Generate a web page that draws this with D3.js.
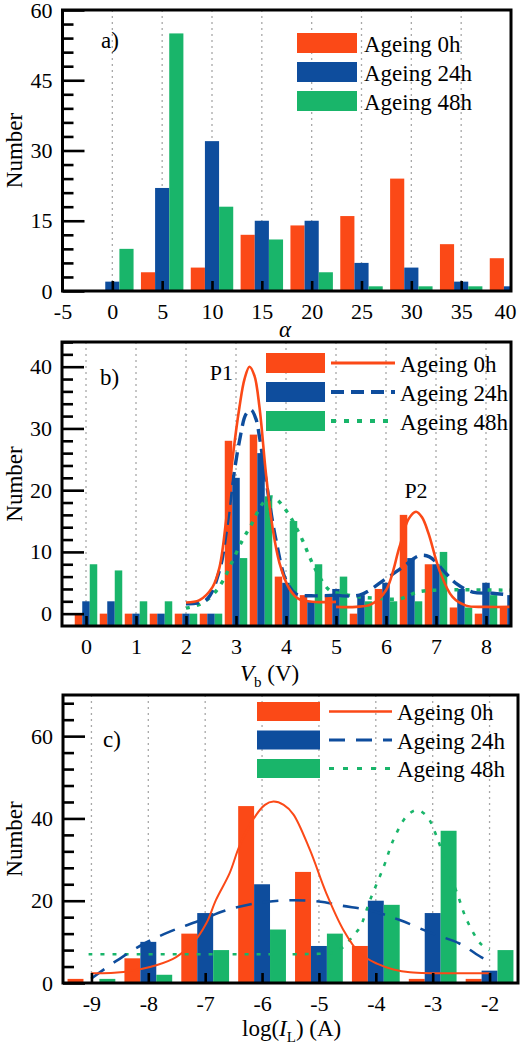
<!DOCTYPE html>
<html>
<head>
<meta charset="utf-8">
<script src="https://cdn.jsdelivr.net/npm/d3@7"></script>
<style>
  body { margin: 0; background: #fff; }
  text { font-family: "Liberation Serif", "Times New Roman", serif; fill: #000; }
</style>
</head>
<body>
<div id="chart"></div>
<script>
// ---- data ----
const seriesNames = ['Ageing 0h', 'Ageing 24h', 'Ageing 48h'];
const colors = ['#fb4917', '#0e4d9d', '#19b56a'];

// a) alpha histogram
const alphaBins = [0, 5, 10, 15, 20, 25, 30, 35, 40];
const alpha0h  = [0, 4, 5, 12, 14, 16, 24, 10, 7];
const alpha24h = [2, 22, 32, 15, 15, 6, 5, 2, 1];
const alpha48h = [9, 55, 18, 11, 4, 1, 1, 1, 0];
const alphaXTicks = [-5, 0, 5, 10, 15, 20, 25, 30, 35, 40];
const alphaYTicks = [0, 15, 30, 45, 60];

// b) Vb histogram
const vbBins = [0, 0.5, 1, 1.5, 2, 2.5, 3, 3.5, 4, 4.5, 5, 5.5, 6, 6.5, 7, 7.5, 8, 8.5];
const vb0h  = [0, 0, 0, 0, 0, 0, 28, 29, 6, 3, 3, 0, 4, 16, 8, 1, 0, 1];
const vb24h = [2, 2, 0, 0, 0, 0, 22, 26, 5, 2, 4, 3, 5, 9, 8, 4, 5, 3];
const vb48h = [8, 7, 2, 2, 0, 0, 9, 19, 15, 8, 6, 2, 2, 2, 10, 1, 3, 0];
const vbXTicks = [0, 1, 2, 3, 4, 5, 6, 7, 8];
const vbYTicks = [0, 10, 20, 30, 40];

// b) fitted curves (points read from the picture)
const vbFit0hP1 = [[2, 1.8], [2.27, 2.2], [2.53, 4.3], [2.67, 7.5], [2.8, 15], [2.93, 25], [3.07, 33.5], [3.17, 38], [3.27, 40], [3.37, 38.5], [3.47, 33.4], [3.6, 22.6], [3.73, 14], [3.87, 8.2], [4.07, 4.0], [4.27, 2.3], [4.6, 1.9], [5, 1.9]];
const vbFit0hP2 = [[5, 1.1], [5.4, 1.1], [5.7, 1.5], [6.0, 3.8], [6.27, 10.8], [6.45, 15.3], [6.6, 16.5], [6.72, 15.6], [6.85, 13], [7.07, 7], [7.33, 2.7], [7.6, 1.3], [8, 1.1], [8.5, 1.1]];
const vbFit24hP1 = [[2, 1.6], [2.4, 2.2], [2.67, 7], [2.8, 13], [2.93, 21], [3.07, 28], [3.2, 32.3], [3.3, 33], [3.4, 31.5], [3.47, 28.6], [3.6, 21.6], [3.8, 11.9], [4.0, 5.4], [4.2, 3.2], [4.5, 2.9], [5, 3]];
const vbFit24hP2 = [[5, 3], [5.47, 3], [5.99, 5.6], [6.33, 7.5], [6.67, 9.4], [6.87, 9.2], [7.2, 6.5], [7.4, 4.9], [7.73, 3.5], [8.13, 3.3], [8.5, 3]];
const vbFit48h = [[2, 0.9], [2.27, 1.5], [2.53, 3], [2.73, 5.2], [2.9, 8], [3.13, 11.9], [3.3, 14.3], [3.53, 17.8], [3.7, 18.9], [3.8, 18.6], [4.03, 16.4], [4.33, 11.9], [4.47, 9.2], [4.6, 7], [4.87, 3.8], [5.13, 3.2], [5.47, 2.7], [5.8, 2.5], [6.27, 2.4], [6.63, 3.5], [6.97, 3.8], [8.5, 3.8]];

// c) log(IL) histogram
const ilBins = [-9, -8, -7, -6, -5, -4, -3, -2];
const il0h  = [1, 6, 12, 43, 27, 9, 1, 1];
const il24h = [0, 10, 17, 24, 9, 20, 17, 3];
const il48h = [1, 2, 8, 13, 12, 19, 37, 8];
const ilXTicks = [-9, -8, -7, -6, -5, -4, -3, -2];
const ilYTicks = [0, 20, 40, 60];

const ilFit0h = [[-9, 2.4], [-8.6, 2.5], [-8.16, 3.3], [-7.86, 4.3], [-7.51, 6.3], [-7.22, 9.6], [-6.98, 14.5], [-6.81, 20.2], [-6.57, 26.7], [-6.4, 33.2], [-6.16, 39.7], [-5.95, 43.3], [-5.8, 44.1], [-5.62, 43.3], [-5.45, 41], [-5.16, 32.4], [-4.87, 21.8], [-4.57, 12.9], [-4.28, 7.2], [-3.98, 4.7], [-3.69, 3.3], [-3.4, 2.6], [-2.0, 2.4]];
const ilFit24h = [[-9, 1.1], [-8.57, 5.3], [-8.07, 9.6], [-7.6, 12.6], [-7.13, 15], [-6.6, 17.8], [-6.0, 19.6], [-5.5, 20.1], [-5.0, 19.8], [-4.6, 18.8], [-4.06, 17.5], [-3.58, 15.3], [-3.0, 12], [-2.53, 9.6], [-2.15, 6.3], [-2.0, 5.2]];
const ilFit48h = [[-9.05, 7], [-8, 7], [-7, 7], [-6, 7], [-5, 7.1], [-4.75, 7.4], [-4.55, 9], [-4.4, 11.5], [-4.28, 13.5], [-4.1, 20.2], [-3.86, 28.3], [-3.69, 34.8], [-3.46, 40.5], [-3.28, 42], [-3.1, 40.5], [-2.93, 35.6], [-2.75, 28.3], [-2.57, 21.8], [-2.4, 15.3], [-2.16, 9.6], [-2.0, 8]];

// ---- drawing ----
const width = 520, height = 1047;
const svg = d3.select('#chart').append('svg')
  .attr('width', width)
  .attr('height', height);

const plainFormat = d => String(d); // hyphen minus like the original, not U+2212

function drawPanel(p) {
  const x = d3.scaleLinear().domain(p.xDomain).range([p.left, p.right]);
  const y = d3.scaleLinear().domain(p.yDomain).range([p.bottom, p.top]);
  const g = svg.append('g');

  svg.append('clipPath').attr('id', 'clip-' + p.id)
    .append('rect')
    .attr('x', p.left).attr('y', p.top)
    .attr('width', p.right - p.left).attr('height', p.bottom - p.top);

  // dotted vertical grid
  g.selectAll('.grid')
    .data(p.xTicks.filter(t => t > p.xDomain[0] && t < p.xDomain[1]))
    .enter().append('line')
    .attr('x1', d => x(d)).attr('x2', d => x(d))
    .attr('y1', p.top).attr('y2', p.bottom)
    .attr('stroke', '#a8a8a8')
    .attr('stroke-width', 1.3)
    .attr('stroke-dasharray', '2,4');

  // bars
  const barG = g.append('g').attr('clip-path', 'url(#clip-' + p.id + ')');
  const bw = x(p.barW) - x(0);
  p.series.forEach((vals, i) => {
    barG.selectAll(null)
      .data(p.bins.map((b, j) => ({ b: b, v: vals[j] })))
      .enter().append('rect')
      .attr('x', d => x(d.b + (i - 1) * p.barW) - bw / 2)
      .attr('width', bw)
      .attr('y', d => y(d.v))
      .attr('height', d => p.bottom - y(d.v))
      .attr('fill', colors[i]);
  });

  // fitted curves
  const line = d3.line()
    .x(d => x(d[0])).y(d => y(d[1]))
    .curve(d3.curveCatmullRom.alpha(0.5));
  (p.fits || []).forEach(f => {
    barG.append('path')
      .attr('d', line(f.pts))
      .attr('fill', 'none')
      .attr('stroke', colors[f.s])
      .attr('stroke-width', p.lineW[f.s])
      .attr('stroke-dasharray', p.dashes[f.s]);
  });

  // axes
  const yAxis = g.append('g')
    .attr('transform', `translate(${p.left},0)`)
    .call(d3.axisLeft(y).tickValues(p.yTicks).tickFormat(plainFormat).tickSize(-22).tickPadding(10));
  const yMinor = g.append('g')
    .attr('transform', `translate(${p.left},0)`)
    .call(d3.axisLeft(y).tickValues(p.yMinor).tickSize(-11).tickFormat(''));
  const xAxis = g.append('g')
    .attr('transform', `translate(0,${p.bottom})`)
    .call(d3.axisBottom(x).tickValues(p.xTicks).tickFormat(plainFormat).tickSize(-10).tickPadding(12));
  [yAxis, yMinor, xAxis].forEach(a => {
    a.select('.domain').remove();
    a.selectAll('line').attr('stroke', '#000').attr('stroke-width', 2.6);
    a.selectAll('text').style('font-size', '22px').style('font-family', '"Liberation Serif", serif').attr('fill', '#000');
  });
  xAxis.selectAll('.tick')
    .filter(d => d <= p.xDomain[0] + 1e-6 || d >= p.xDomain[1] - 1e-6)
    .select('line').remove();
  if (p.lastLabelDx) {
    xAxis.selectAll('.tick').filter(d => d === p.xTicks[p.xTicks.length - 1])
      .select('text').attr('dx', p.lastLabelDx);
  }

  // frame
  g.append('rect')
    .attr('x', p.left).attr('y', p.top)
    .attr('width', p.right - p.left).attr('height', p.bottom - p.top)
    .attr('fill', 'none').attr('stroke', '#000').attr('stroke-width', 3);

  // y label
  g.append('text')
    .attr('transform', `translate(22,${(p.top + p.bottom) / 2}) rotate(-90)`)
    .attr('text-anchor', 'middle')
    .style('font-size', '23px')
    .text('Number');

  // panel letter
  g.append('text')
    .attr('x', p.letterX).attr('y', p.letterY)
    .style('font-size', '23px')
    .text(p.letter);

  // legend
  const lg = p.legend;
  seriesNames.forEach((name, i) => {
    const yy = lg.y + i * lg.step;
    g.append('rect')
      .attr('x', lg.rx).attr('y', yy)
      .attr('width', lg.rw).attr('height', lg.rh)
      .attr('fill', colors[i]);
    if (lg.lx1 != null) {
      g.append('line')
        .attr('x1', lg.lx1).attr('x2', lg.lx2)
        .attr('y1', yy + lg.rh / 2).attr('y2', yy + lg.rh / 2)
        .attr('stroke', colors[i])
        .attr('stroke-width', p.lineW[i] + 0.5)
        .attr('stroke-dasharray', p.legendDashes[i]);
    }
    g.append('text')
      .attr('x', lg.tx).attr('y', yy + lg.rh - 1)
      .style('font-size', '23px')
      .text(name);
  });

  return { g: g, x: x, y: y };
}

// panel a
const pa = drawPanel({
  id: 'a', left: 62.5, right: 511, top: 10, bottom: 291,
  xDomain: [-5, 40], yDomain: [0, 60],
  xTicks: alphaXTicks, yTicks: alphaYTicks,
  yMinor: d3.range(0, 61, 3).filter(v => v % 15 !== 0),
  bins: alphaBins, series: [alpha0h, alpha24h, alpha48h], barW: 1.42,
  lineW: [2.5, 3, 3], dashes: [null, null, null],
  lastLabelDx: -6,
  letter: 'a)', letterX: 101, letterY: 48,
  legend: { rx: 297, rw: 60, rh: 20, y: 33, step: 29, tx: 364 }
});
pa.g.append('text')
  .attr('x', 285).attr('y', 337)
  .attr('text-anchor', 'middle')
  .style('font-size', '23px').style('font-style', 'italic')
  .text('α');

// panel b
const pb = drawPanel({
  id: 'b', left: 62, right: 511, top: 342, bottom: 626,
  xDomain: [-0.48, 8.5], yDomain: [-2, 44],
  xTicks: vbXTicks, yTicks: vbYTicks,
  yMinor: d3.range(0, 45, 2).filter(v => v % 10 !== 0),
  bins: vbBins, series: [vb0h, vb24h, vb48h], barW: 0.15,
  lineW: [2.6, 3.4, 3.4], dashes: [null, '13,7', '4,7'],
  legendDashes: [null, '13,7', '5,8'],
  fits: [
    { s: 2, pts: vbFit48h },
    { s: 1, pts: vbFit24hP1 }, { s: 1, pts: vbFit24hP2 },
    { s: 0, pts: vbFit0hP1 }, { s: 0, pts: vbFit0hP2 }
  ],
  letter: 'b)', letterX: 100, letterY: 385,
  legend: { rx: 266, rw: 59, rh: 20, y: 353, step: 29, lx1: 331, lx2: 395, tx: 400 }
});
pb.g.append('text').attr('x', 233).attr('y', 380)
  .attr('text-anchor', 'end').style('font-size', '22px').text('P1');
pb.g.append('text').attr('x', pb.x(6.6)).attr('y', 498)
  .attr('text-anchor', 'middle').style('font-size', '22px').text('P2');
const vbLabel = pb.g.append('text')
  .attr('x', 240).attr('y', 681)
  .style('font-size', '23px');
vbLabel.append('tspan').style('font-style', 'italic').text('V');
vbLabel.append('tspan').attr('dy', 6).style('font-size', '15px').text('b');
vbLabel.append('tspan').attr('dy', -6).text(' (V)');

// panel c
const pc = drawPanel({
  id: 'c', left: 63, right: 518, top: 695, bottom: 983,
  xDomain: [-9.5, -1.5], yDomain: [0, 70],
  xTicks: ilXTicks, yTicks: ilYTicks,
  yMinor: d3.range(0, 71, 4).filter(v => v % 20 !== 0),
  bins: ilBins, series: [il0h, il24h, il48h], barW: 0.28,
  lineW: [2, 2.6, 2.6], dashes: [null, '16,11', '4,8'],
  legendDashes: [null, '16,11', '5,9'],
  fits: [
    { s: 2, pts: ilFit48h },
    { s: 1, pts: ilFit24h },
    { s: 0, pts: ilFit0h }
  ],
  letter: 'c)', letterX: 103, letterY: 747,
  legend: { rx: 257, rw: 63, rh: 19, y: 702, step: 28.5, lx1: 329, lx2: 392, tx: 397 }
});
const ilLabel = pc.g.append('text')
  .attr('x', 242).attr('y', 1036)
  .style('font-size', '23px');
ilLabel.append('tspan').text('log(');
ilLabel.append('tspan').style('font-style', 'italic').text('I');
ilLabel.append('tspan').attr('dy', 6).style('font-size', '15px').text('L');
ilLabel.append('tspan').attr('dy', -6).text(') (A)');
</script>
</body>
</html>
